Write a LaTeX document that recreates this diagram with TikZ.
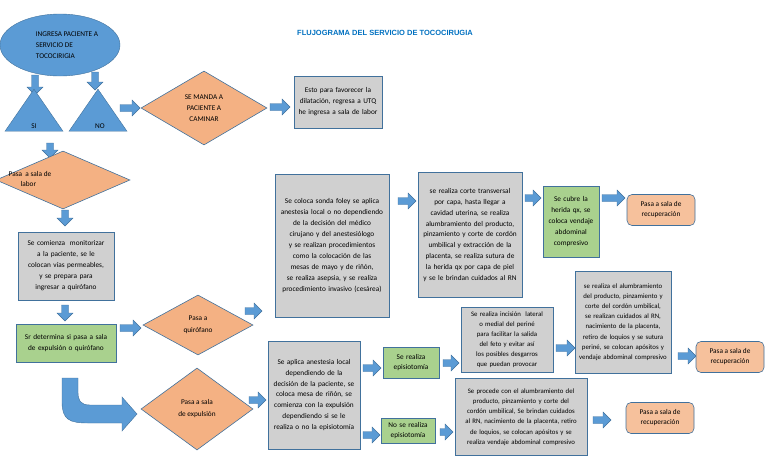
\documentclass[tikz,border=0pt]{standalone}
\usepackage{fontspec}
\setmainfont{Carlito}
\newfontfamily\titlef{Liberation Sans}
\usetikzlibrary{shapes.geometric}
\definecolor{bl}{HTML}{5B9BD5}
\definecolor{bld}{HTML}{41719C}
\definecolor{org}{HTML}{F4B183}
\definecolor{gry}{HTML}{D0D0D0}
\definecolor{grn}{HTML}{A9D18E}
\definecolor{ttl}{HTML}{0070C0}
\newcommand\rarr[3]{\filldraw[fill=bl,draw=bld,line width=0.4pt] (#1,#3-3.5) -- (#2-8,#3-3.5) -- (#2-8,#3-8) -- (#2,#3) -- (#2-8,#3+8) -- (#2-8,#3+3.5) -- (#1,#3+3.5) -- cycle;}
\newcommand\darr[3]{\filldraw[fill=bl,draw=bld,line width=0.4pt] (#1-3.5,#2) -- (#1-3.5,#3-8) -- (#1-8,#3-8) -- (#1,#3) -- (#1+8,#3-8) -- (#1+3.5,#3-8) -- (#1+3.5,#2) -- cycle;}
\begin{document}
\hyphenpenalty=10000 \exhyphenpenalty=10000
\begin{tikzpicture}[x=1pt,y=-1pt,
  txt/.style={font=\fontsize{7.3}{10}\selectfont,align=center,text=black},
  gbox/.style={txt,draw=bld,fill=gry,line width=0.8pt,inner xsep=4pt,inner ysep=2pt},
  grbox/.style={txt,draw=bld,fill=grn,line width=0.8pt,inner xsep=3pt,inner ysep=2pt},
  rec/.style={txt,draw=bld,fill=org!80,rounded corners=5pt,line width=0.6pt,minimum width=68pt,minimum height=31pt},
  dia/.style={txt,diamond,draw=bld,fill=org,line width=0.6pt,aspect=1.7,inner sep=0pt},
  tri/.style={txt,isosceles triangle,shape border rotate=90,isosceles triangle stretches,fill=bl,draw=bld,line width=0.4pt,minimum width=58pt,minimum height=42pt,inner sep=0pt}]
\useasboundingbox (0,0) rectangle (768,466);
\node[font=\titlef\fontsize{7.5}{8}\selectfont\bfseries,text=ttl] (title) at (385,33) {FLUJOGRAMA DEL SERVICIO DE TOCOCIRUGIA};
\node[ellipse,fill=bl,draw=bld,minimum width=120pt,minimum height=62pt,txt,font=\fontsize{7.3}{11}\selectfont,align=left] (ing) at (60,45) {\hspace*{14pt}INGRESA PACIENTE A\\\hspace*{14pt}SERVICIO DE\\\hspace*{14pt}TOCOCIRIGIA};
\darr{35}{75}{95}\darr{95}{72}{90}
\node[tri] (si) at (34,116) {};
\node[txt] (sit) at (34,126) {SI};
\node[tri] (no) at (98,116) {};
\node[txt] (not) at (100,126) {NO};
\rarr{120}{140}{108}
\node[dia,minimum width=126pt,minimum height=74pt,font=\fontsize{7.3}{11}\selectfont] (cam) at (204,108) {SE MANDA A\\PACIENTE A\\CAMINAR};
\rarr{270}{290}{107}
\node[gbox,text width=80pt,minimum height=52pt,font=\fontsize{7.3}{11}\selectfont] (esto) at (338,102) {Esto para favorecer la dilatación, regresa a UTQ he ingresa a sala de labor};
\darr{50}{143}{158}
\node[dia,minimum width=134pt,minimum height=58pt] (lab) at (63,180) {};
\node[txt,align=left] (labt) at (30,179) {Pasa \ a sala de\\\hspace*{12pt}labor};
\darr{65}{210}{226}
\node[gbox,text width=88pt,minimum height=68pt,font=\fontsize{7.3}{11}\selectfont] (mon) at (66,266) {Se comienza \ monitorizar a la paciente, se le colocan vías permeables, y se prepara para ingresar a quirófano};
\darr{65}{305}{321}
\node[grbox,text width=94pt,minimum height=38pt,font=\fontsize{7.3}{11}\selectfont] (det) at (66,343) {Sr determina si pasa a sala de expulsión o quirófano};
\rarr{120}{141}{328}
\node[dia,minimum width=110pt,minimum height=60pt,font=\fontsize{7.3}{12}\selectfont] (qui) at (198,325) {Pasa a\\quirófano};
\rarr{245}{262}{311}
\node[gbox,font=\fontsize{7.3}{11}\selectfont,text width=106pt,minimum height=143pt] (son) at (332,246) {Se coloca sonda foley se aplica anestesia local o no dependiendo de la decisión del médico cirujano y del anestesiólogo y se realizan procedimientos como la colocación de las mesas de mayo y de riñón, se realiza asepsia, y se realiza procedimiento invasivo (cesárea)};
\rarr{398}{416}{201}
\node[gbox,font=\fontsize{7.3}{10.8}\selectfont,text width=96pt,minimum height=125pt] (cor) at (470,235) {se realiza corte transversal por capa, hasta llegar a cavidad uterina, se realiza alumbramiento del producto, pinzamiento y corte de cordón umbilical y extracción de la placenta, se realiza sutura de la herida qx por capa de piel y se le brindan cuidados al RN};
\rarr{525}{541}{198}
\node[grbox,font=\fontsize{7.3}{11}\selectfont,text width=50pt,minimum height=71pt] (cub) at (571,222) {Se cubre la herida qx, se coloca vendaje abdominal compresivo};
\rarr{602}{625}{198}
\node[rec] (r1) at (661,210) {Pasa a sala de\\recuperación};
\filldraw[fill=bl,draw=bld,line width=0.4pt] (62,378) -- (62,402) .. controls (62,420) and (70,423) .. (88,423) -- (122,423) -- (122,431) -- (137,414) -- (122,397) -- (122,405) -- (90,405) .. controls (80,405) and (78,400) .. (78,392) -- (78,378) -- cycle;
\node[dia,minimum width=112pt,minimum height=82pt,font=\fontsize{7.3}{12}\selectfont] (exp) at (197,409) {Pasa a sala\\de expulsión};
\rarr{249}{266}{400}
\node[gbox,font=\fontsize{7.3}{10.8}\selectfont,text width=84pt,minimum height=108pt] (apl) at (314,395) {Se aplica anestesia local dependiendo de la decisión de la paciente, se coloca mesa de riñón, se comienza con la expulsión dependiendo si se le realiza o no la episiotomía};
\rarr{363}{381}{368}
\node[grbox,text width=50pt,minimum height=31pt] (si2) at (411,363) {Se realiza episiotomía};
\rarr{363}{380}{435}
\node[grbox,text width=48pt,minimum height=25pt] (no2) at (408,431) {No se realiza episiotomía};
\rarr{443}{459}{363}
\rarr{440}{453}{432}
\node[gbox,font=\fontsize{6.8}{10}\selectfont,text width=84pt,minimum height=65pt] (inc) at (507,340) {Se realiza incisión \ lateral o medial del periné para facilitar la salida del feto y evitar así los posibles desgarros que puedan provocar};
\rarr{556}{575}{348}
\node[gbox,font=\fontsize{6.8}{10.2}\selectfont,text width=88pt,minimum height=102pt] (alu) at (623,322) {se realiza el alumbramiento del producto, pinzamiento y corte del cordón umbilical, \ se realizan cuidados al RN, nacimiento de la placenta, retiro de loquios y se sutura periné, se colocan apósitos y vendaje abdominal compresivo};
\rarr{678}{696}{356}
\node[rec] (r2) at (730,357) {Pasa a sala de\\recuperación};
\node[gbox,font=\fontsize{6.8}{10.2}\selectfont,text width=124pt,minimum height=77pt] (pro) at (521,417) {Se procede con el alumbramiento del producto, pinzamiento y corte del cordón umbilical, Se brindan cuidados al RN, nacimiento de la placenta, retiro de loquios, se colocan apósitos y se realiza vendaje abdominal compresivo};
\rarr{593}{611}{420}
\node[rec] (r3) at (660,418) {Pasa a sala de\\recuperación};
\end{tikzpicture}
\end{document}
